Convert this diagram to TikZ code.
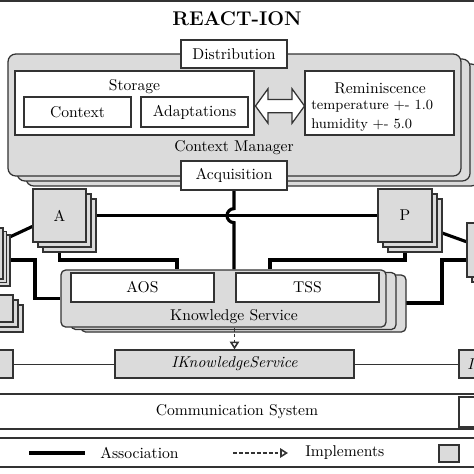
\documentclass[tikz,border=0pt]{standalone}
\usetikzlibrary{shapes.arrows,shadows,backgrounds,arrows.meta}
\newlength{\pxu}
\setlength{\pxu}{0.64pt}
\definecolor{boxgray}{gray}{0.86}
\definecolor{linec}{gray}{0.2}
\tikzset{
  sz/.style 2 args={minimum width=#1*\pxu, minimum height=#2*\pxu},
  box/.style={draw=linec, line width=0.8pt, fill=white, inner sep=0pt},
  graybox/.style={box, fill=boxgray},
  lbl/.style={inner sep=0pt},
  cmstack/.style={
    copy shadow={shadow xshift=11.5pt, shadow yshift=-6.4pt, fill=boxgray, draw=linec, line width=0.8pt},
    copy shadow={shadow xshift=5.8pt, shadow yshift=-3.2pt, fill=boxgray, draw=linec, line width=0.8pt}},
  agstack/.style={
    copy shadow={shadow xshift=6.4pt, shadow yshift=-6.4pt, fill=boxgray, draw=linec, line width=0.8pt},
    copy shadow={shadow xshift=3.2pt, shadow yshift=-3.2pt, fill=boxgray, draw=linec, line width=0.8pt}},
  smallstack/.style={
    copy shadow={shadow xshift=4.5pt, shadow yshift=-4.5pt, fill=boxgray, draw=linec, line width=0.8pt},
    copy shadow={shadow xshift=2.25pt, shadow yshift=-2.25pt, fill=boxgray, draw=linec, line width=0.8pt}},
  ksstack/.style={
    copy shadow={shadow xshift=12.8pt, shadow yshift=-3.2pt, fill=boxgray, draw=linec, line width=0.8pt},
    copy shadow={shadow xshift=6.4pt, shadow yshift=-1.6pt, fill=boxgray, draw=linec, line width=0.8pt}},
  xchg/.style={double arrow, draw=linec, fill=white, line width=0.8pt,
    inner xsep=0pt, inner ysep=3.84pt, minimum height=31.4pt,
    double arrow head extend=6.72pt, double arrow tip angle=108},
  assoc/.style={draw=black, line width=2pt},
  impl/.style={draw=linec, line width=1pt, dash pattern=on 2.5pt off 1.3pt,
    -{Triangle[open, length=5pt, width=6pt]}},
  ifline/.style={draw=linec, line width=0.6pt}
}
\begin{document}
\begin{tikzpicture}[x=0.64pt, y=-0.64pt]
  \path[use as bounding box] (0,0) rectangle (474,474);
  \draw[linec, line width=1.3pt] (-5,1) -- (479,1);
  \node[font=\fontsize{12.7}{15}\selectfont\bfseries] (title) at (237,19) {REACT-ION};

  % context manager
  \draw
    (234.5,115) node[graybox, cmstack, rounded corners=5pt, sz={453}{122}] (cm){}
    (234,148) node[lbl] (cmname){Context Manager}
    (134.5,103) node[box, sz={239}{64}] (store){}
    (134.5,87) node[lbl] (storename){Storage}
    (77.5,112) node[box, sz={107}{30}] (ctx){Context}
    (194.5,112) node[box, sz={107}{30}] (adapt){Adaptations}
    (379.5,103) node[box, sz={149}{64}] (remin){}
    (380,88) node[lbl] (reminname){Reminiscence}
    (311,106) node[lbl, anchor=west, font=\small] (remtemp){temperature +- 1.0}
    (311,125) node[lbl, anchor=west, font=\small] (remhum){humidity +- 5.0}
    (280,106) node[xchg] (swap){}
    (234,54) node[box, sz={106}{28}] (dist){Distribution}
    (234,175.5) node[box, sz={106}{29}] (acq){Acquisition};

  % agents and services
  \draw
    (59.5,215.5) node[graybox, agstack, sz={53}{53}] (agA){A}
    (405,215.5) node[graybox, agstack, sz={54}{53}] (agP){P}
    (-21,253.5) node[graybox, smallstack, sz={48}{51}] (lbox){}
    (-16,308.5) node[graybox, agstack, sz={58}{27}] (lbox2){}
    (493.5,250) node[graybox, agstack, sz={53}{54}] (rbox){}
    (223.5,298.5) node[graybox, ksstack, rounded corners=3pt, sz={325}{57}] (ks){}
    (234,317) node[lbl] (ksname){Knowledge Service}
    (142.5,287.5) node[box, sz={143}{29}] (aos){AOS}
    (307.5,287.5) node[box, sz={143}{29}] (tss){TSS};

  % interfaces
  \draw
    (234.5,364) node[graybox, sz={239}{28}, font=\itshape] (iks){IKnowledgeService}
    (-16,364) node[graybox, sz={58}{28}] (iksL){}
    (520,364) node[graybox, sz={122}{28}] (iksR){}
    (467,364) node[lbl, anchor=west, font=\itshape] (iksRname){I};

  % communication and legend
  \draw
    (237,411.5) node[box, sz={490}{35}] (comm){Communication System}
    (485,412) node[box, sz={52}{30}] (commR){}
    (237,452.5) node[box, sz={490}{29}] (legend){}
    (449,453.5) node[graybox, sz={20}{17}] (keygray){}
    (100,453) node[lbl, anchor=west] (assocname){Association}
    (305,453) node[lbl, anchor=west] (implname){Implements};
  \coordinate (la1) at (29,453);
  \coordinate (la2) at (85,453);
  \coordinate (li1) at (233,453);
  \coordinate (li2) at (288,453);
  \coordinate (kA) at (177,260);
  \coordinate (kP) at (270,260);
  \coordinate (kL) at (35,260);
  \coordinate (kR) at (442,260);
  \coordinate (kR2) at (442,303);

  \begin{scope}[on background layer]
    \draw[assoc] (acq.south) -- ++(0,18) arc[start angle=90, end angle=270, radius=4.48pt]
      -- (acq.south |- ks.north);
    \draw[assoc] (agA.east) -- (agP.west);
    \draw[assoc] (agA.south) |- (kA) -- (kA |- ks.north);
    \draw[assoc] (agP.south) |- (kP) -- (kP |- ks.north);
    \draw[assoc] (agA.202) -- (lbox.29);
    \draw[assoc] (lbox.east |- kL) -- (kL) |- (ks.west);
    \draw[assoc] (agP.-27) -- (rbox.163);
    \draw[assoc] (rbox.west |- kR) -- (kR) -- (kR2) -- (kR2 -| ks.east);
  \end{scope}
  \draw[ifline] (iks.west) -- (iksL.east);
  \draw[ifline] (iks.east) -- (iksR.west);
  \draw[impl] (iks.north |- ks.south) -- (iks.north);
  \draw[assoc, line width=2.5pt] (la1) -- (la2);
  \draw[impl] (li1) -- (li2);
\end{tikzpicture}
\end{document}
